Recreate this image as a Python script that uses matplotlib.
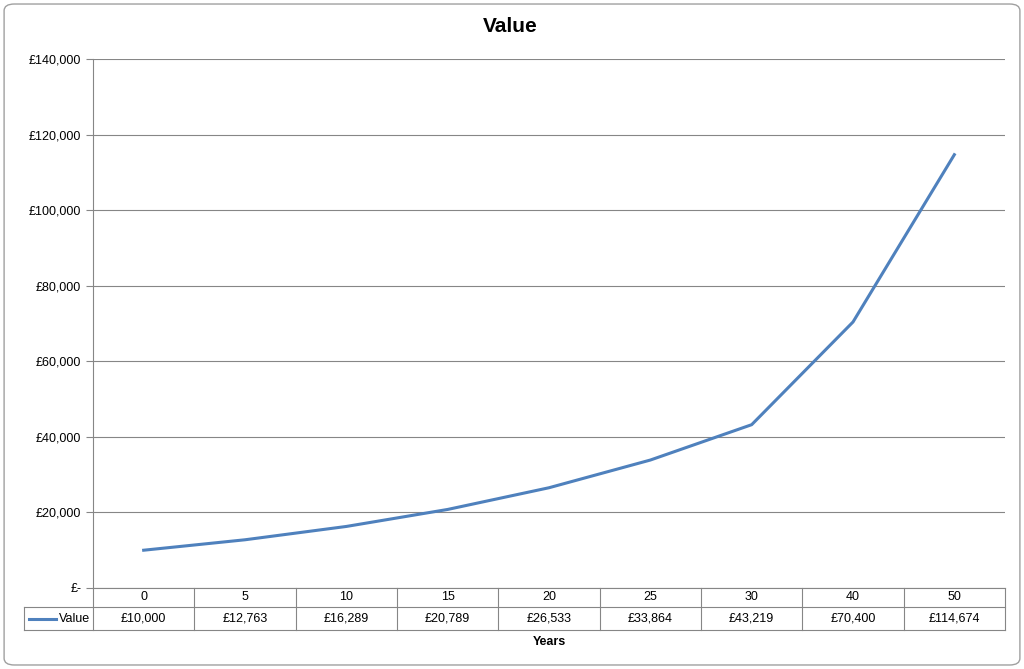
import matplotlib
matplotlib.use("Agg")
import matplotlib.pyplot as plt
from matplotlib.patches import FancyBboxPatch
from matplotlib.ticker import FuncFormatter

years = ["0", "5", "10", "15", "20", "25", "30", "40", "50"]
values = [10000, 12763, 16289, 20789, 26533, 33864, 43219, 70400, 114674]
value_labels = ["£10,000", "£12,763", "£16,289", "£20,789", "£26,533", "£33,864", "£43,219", "£70,400", "£114,674"]

plt.rcParams['font.family'] = ['Liberation Sans', 'DejaVu Sans']
fig = plt.figure(figsize=(10.24, 6.69), dpi=100)
fig.patches.append(FancyBboxPatch((0.004, 0.006), 0.992, 0.988, boxstyle="round,pad=0,rounding_size=0.01",
                                  transform=fig.transFigure, fill=False, edgecolor="#a0a0a0", lw=1))
ax = fig.add_axes([93/1024, 1-588/669, (1005-93)/1024, (588-59)/669])
n = len(years)
xs = list(range(n))
ax.plot(xs, values, color="#4f81bd", lw=2.2)
ax.set_xlim(-0.5, n-0.5)
ax.set_ylim(0, 140000)
ax.set_yticks(range(0, 140001, 20000))
ax.yaxis.set_major_formatter(FuncFormatter(lambda v, p: "£-" if v == 0 else f"£{int(v):,}"))
ax.grid(axis="y", color="#868686", lw=0.8)
ax.set_axisbelow(True)
ax.tick_params(axis="y", labelsize=9, length=5, color="#868686")
ax.set_xticks([])
for s in ["top", "right"]:
    ax.spines[s].set_visible(False)
for s in ["left", "bottom"]:
    ax.spines[s].set_color("#868686")
fig.text(0.498, 1-27/669, "Value", fontsize=15, fontweight="bold", ha="center", va="center")

# data table
h = 529/669  # axes height in figure fraction
def ay(px):  # pixels below axes bottom -> axes coords
    return -px/669/h
tr = ax.get_xaxis_transform()
y1, y2 = ay(19), ay(42)
lc = "#868686"
for i in range(n+1):
    ax.plot([i-0.5, i-0.5], [0, y2], transform=tr, color=lc, lw=0.8, clip_on=False)
x_left = -0.5 - 69/((1005-93)/n)
ax.plot([x_left, n-0.5], [y1, y1], transform=tr, color=lc, lw=0.8, clip_on=False)
ax.plot([x_left, n-0.5], [y2, y2], transform=tr, color=lc, lw=0.8, clip_on=False)
ax.plot([x_left, x_left], [y1, y2], transform=tr, color=lc, lw=0.8, clip_on=False)
for i in range(n):
    ax.text(i, (0+y1)/2, years[i], transform=tr, ha="center", va="center", fontsize=9)
    ax.text(i, (y1+y2)/2, value_labels[i], transform=tr, ha="center", va="center", fontsize=9)
unit = (1005-93)/n
ax.plot([x_left+5/unit, x_left+32/unit], [(y1+y2)/2]*2, transform=tr, color="#4f81bd", lw=2.2, clip_on=False)
ax.text(x_left+35/unit, (y1+y2)/2, "Value", transform=tr, ha="left", va="center", fontsize=9)
ax.text((n-1)/2, ay(54), "Years", transform=tr, ha="center", va="center", fontsize=9, fontweight="bold")

fig.savefig("out.png", dpi=100)
